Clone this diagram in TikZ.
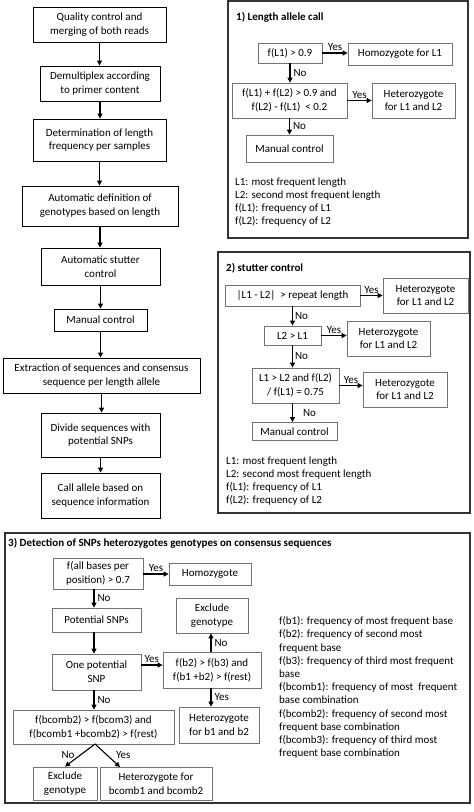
\documentclass[tikz,border=0pt]{standalone}
\usepackage{fontspec}
\setmainfont{Carlito}
\usetikzlibrary{arrows.meta}
\begin{document}
\begin{tikzpicture}[x=1pt,y=-1pt,
  every node/.style={font=\fontsize{11}{13.8}\selectfont, inner sep=0pt},
  lbox/.style={draw=black, line width=0.9pt, align=center},
  gbox/.style={draw=black!55, line width=0.8pt, align=center},
  panel/.style={draw=black!80, line width=1.2pt},
  arr/.style={-{Triangle[length=5pt,width=5pt]}, line width=1.1pt},
  lab/.style={font=\fontsize{11}{12}\selectfont},
  legend/.style={align=left, anchor=north west, font=\fontsize{11}{13.2}\selectfont},
  ttl/.style={anchor=west, font=\fontsize{11}{12}\selectfont\bfseries}
]
\useasboundingbox (0,0) rectangle (474,812);

% ---------------- left column ----------------
\node[lbox, minimum width=133pt, minimum height=35pt] (n1) at (99.5,24.5) {Quality control and\\merging of both reads};
\node[lbox, minimum width=120pt, minimum height=35pt] (n2) at (100,83.5) {Demultiplex according\\to primer content};
\node[lbox, minimum width=133pt, minimum height=42pt] (n3) at (99.5,140) {Determination of length\\frequency per samples};
\node[lbox, minimum width=156pt, minimum height=40pt] (n4) at (100,206) {Automatic definition of\\genotypes based on length};
\node[lbox, minimum width=119pt, minimum height=37pt] (n5) at (100.5,266.5) {Automatic stutter\\control};
\node[lbox, minimum width=93pt, minimum height=22pt] (n6) at (100.5,320) {Manual control};
\node[lbox, minimum width=197pt, minimum height=35pt] (n7) at (101.5,375.5) {Extraction of sequences and consensus\\sequence per length allele};
\node[lbox, minimum width=119pt, minimum height=44pt] (n8) at (100.5,435) {Divide sequences with\\potential SNPs};
\node[lbox, minimum width=119pt, minimum height=45pt] (n9) at (100.5,495.5) {Call allele based on\\sequence information};

\foreach \a/\b in {n1/n2,n2/n3,n3/n4,n4/n5,n5/n6,n6/n7,n7/n8,n8/n9}
  \draw[arr] (\a.south) -- (\a.south |- \b.north);

% ---------------- panel 1 ----------------
\draw[panel] (228,1) rectangle (468,238);
\node[ttl] (t1) at (236,17) {1) Length allele call};
\node[gbox, minimum width=64pt, minimum height=20pt] (a1) at (290,53) {f(L1) > 0.9};
\node[gbox, minimum width=104pt, minimum height=22pt] (a2) at (400,54) {Homozygote for L1};
\node[gbox, minimum width=115pt, minimum height=35pt] (a3) at (289.5,100.5) {f(L1) + f(L2) > 0.9 and\\f(L2) - f(L1)\ \ < 0.2};
\node[gbox, minimum width=83pt, minimum height=35pt] (a4) at (413.5,100.5) {Heterozygote\\for L1 and L2};
\node[gbox, minimum width=87pt, minimum height=27pt] (a5) at (289.5,148.5) {Manual control};
\draw[arr] (a1.east) -- (a1.east -| a2.west) node[lab, midway, above=1.5pt] {Yes};
\draw[arr] (a1.south) -- (a1.south |- a3.north) node[lab, midway, right=3pt] {No};
\draw[arr] (a3.east) -- (a3.east -| a4.west) node[lab, midway, above=1.5pt] {Yes};
\draw[arr] (a3.south) -- (a3.south |- a5.north) node[lab, midway, right=3pt] {No};
\node[legend] (l1) at (235,177.5) {L1: most frequent length\\L2: second most frequent length\\f(L1): frequency of L1\\f(L2): frequency of L2};

% ---------------- panel 2 ----------------
\draw[panel] (218,252) rectangle (470,513);
\node[ttl] (t2) at (226,268) {2) stutter control};
\node[gbox, minimum width=135pt, minimum height=21pt] (b1) at (292.5,295.5) {|L1 - L2|\ \ > repeat length};
\node[gbox, minimum width=85pt, minimum height=35pt] (b2) at (425.5,295.5) {Heterozygote\\for L1 and L2};
\node[gbox, minimum width=57pt, minimum height=19pt] (b3) at (292.5,335.5) {L2 > L1};
\node[gbox, minimum width=83pt, minimum height=35pt] (b4) at (388.5,338.5) {Heterozygote\\for L1 and L2};
\node[gbox, minimum width=87pt, minimum height=35pt] (b5) at (295.5,385.5) {L1 > L2 and f(L2)\\/ f(L1) = 0.75};
\node[gbox, minimum width=84pt, minimum height=35pt] (b6) at (405,389.5) {Heterozygote\\for L1 and L2};
\node[gbox, minimum width=85pt, minimum height=18pt] (b7) at (294.5,431.5) {Manual control};
\draw[arr] (b1.east) -- (b1.east -| b2.west) node[lab, midway, above=1.5pt] {Yes};
\draw[arr] (b1.south) -- (b1.south |- b3.north) node[lab, midway, right=2pt] {No};
\draw[arr] (b3.east) -- (b3.east -| b4.west) node[lab, midway, above=1.5pt] {Yes};
\draw[arr] (b3.south) -- (b3.south |- b5.north) node[lab, midway, right=2pt] {No};
\draw[arr] (b5.east) -- (b5.east -| b6.west) node[lab, midway, above=1.5pt] {Yes};
\draw[arr] (b3.south |- b5.south) -- (b3.south |- b7.north) node[lab, midway, right=10pt] {No};
\node[legend] (l2) at (226,456.5) {L1: most frequent length\\L2: second most frequent length\\f(L1): frequency of L1\\f(L2): frequency of L2};

% ---------------- panel 3 ----------------
\draw[panel] (5,533) rectangle (470,803);
\node[ttl] (t3) at (8,543) {3) Detection of SNPs heterozygotes genotypes on consensus sequences};
\node[gbox, minimum width=90pt, minimum height=31pt] (c1) at (98,573.5) {f(all bases per\\position) > 0.7};
\node[gbox, minimum width=82pt, minimum height=22pt] (c2) at (210,574) {Homozygote};
\node[gbox, minimum width=89pt, minimum height=24pt] (c3) at (96.5,620) {Potential SNPs};
\node[gbox, minimum width=89pt, minimum height=36pt] (c4) at (96.5,672) {One potential\\SNP};
\node[gbox, minimum width=98pt, minimum height=36pt] (c5) at (212,670) {f(b2) > f(b3) and\\f(b1 +b2) > f(rest)};
\node[gbox, minimum width=72pt, minimum height=35pt] (c6) at (212,615.5) {Exclude\\genotype};
\node[gbox, minimum width=80pt, minimum height=36pt] (c7) at (219,725) {Heterozygote\\for b1 and b2};
\node[gbox, minimum width=161pt, minimum height=34pt] (c8) at (93.5,727) {f(bcomb2) > f(bcom3) and\\f(bcomb1 +bcomb2) > f(rest)};
\node[gbox, minimum width=64pt, minimum height=33pt] (c9) at (65,783.5) {Exclude\\genotype};
\node[gbox, minimum width=112pt, minimum height=33pt] (c10) at (156,783.5) {Heterozygote for\\bcomb1 and bcomb2};
\coordinate (c1s) at (94,589);
\draw[arr] (c1.east |- c2.west) -- (c2.west) node[lab, midway, above=1.5pt] {Yes};
\draw[arr] (c1s) -- (c1s |- c3.north) node[lab, midway, right=3pt] {No};
\draw[arr] (c1s |- c3.south) -- (c1s |- c4.north);
\coordinate (c4e) at (141,665);
\draw[arr] (c4e) -- (c4e -| c5.west) node[lab, midway, above=1.5pt] {Yes};
\coordinate (c5x) at (211,670);
\draw[arr] (c5x |- c5.north) -- (c5x |- c6.south) node[lab, midway, right=3pt] {No};
\draw[arr] (c5x |- c5.south) -- (c5x |- c7.north) node[lab, midway, right=3pt] {Yes};
\draw[arr] (c1s |- c4.south) -- (c1s |- c8.north) node[lab, midway, right=3pt] {No};
\coordinate (c8s) at (95,744);
\coordinate (c10n) at (120,767);
\draw[arr] (c8s) -- (c9.north) node[lab, midway, left=5pt] {No};
\draw[arr] (c8s) -- (c10n) node[lab, midway, right=8pt] {Yes};
\node[legend] (l3) at (279,616.5) {f(b1): frequency of most frequent base\\f(b2): frequency of second most\\frequent base\\f(b3): frequency of third most frequent\\base\\f(bcomb1): frequency of most\ \ frequent\\base combination\\f(bcomb2): frequency of second most\\frequent base combination\\f(bcomb3): frequency of third most\\frequent base combination};
\end{tikzpicture}
\end{document}
